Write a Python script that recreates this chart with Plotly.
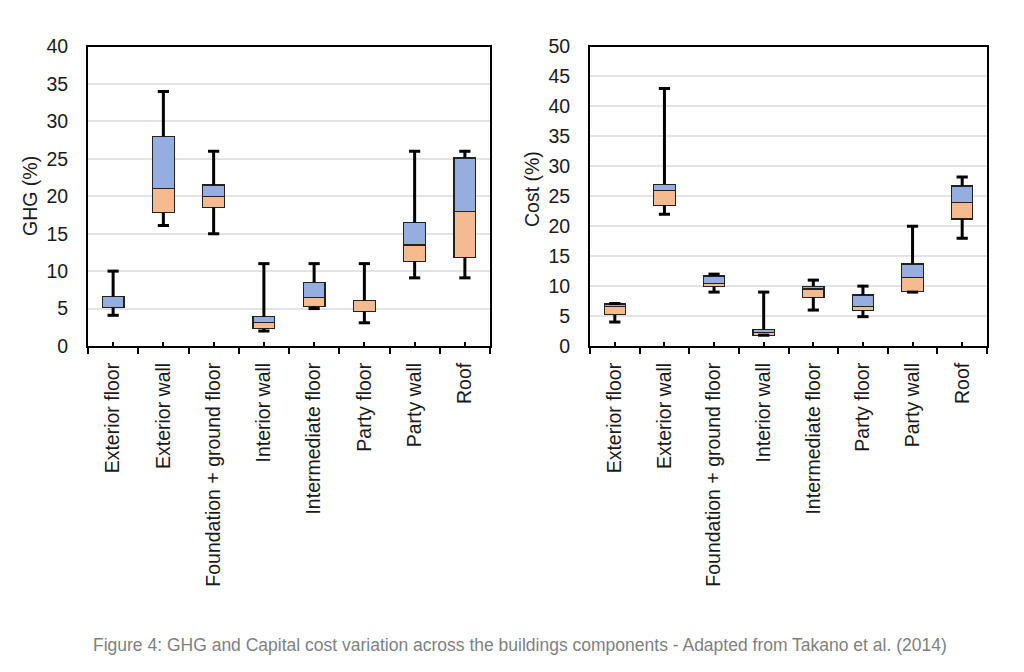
import plotly.graph_objects as go

categories = ["Exterior floor", "Exterior wall", "Foundation + ground floor", "Interior wall",
              "Intermediate floor", "Party floor", "Party wall", "Roof"]

# GHG (%) box statistics
ghg_min = [4.1, 16.1, 15.0, 2.0, 5.0, 3.1, 9.1, 9.1]
ghg_q1 = [5.1, 17.8, 18.5, 2.3, 5.3, 4.6, 11.3, 11.8]
ghg_med = [5.1, 21.0, 20.0, 3.1, 6.5, 6.1, 13.5, 18.0]
ghg_q3 = [6.6, 28.0, 21.5, 3.9, 8.5, 6.1, 16.5, 25.1]
ghg_max = [10.0, 34.0, 26.0, 11.0, 11.0, 11.0, 26.0, 26.0]

# Cost (%) box statistics
cost_min = [4.0, 22.0, 9.0, 1.8, 6.0, 4.9, 9.0, 18.0]
cost_q1 = [5.2, 23.5, 9.9, 1.8, 8.1, 5.9, 9.1, 21.2]
cost_med = [6.6, 25.9, 10.5, 2.2, 9.5, 6.6, 11.5, 23.9]
cost_q3 = [7.0, 27.0, 11.7, 2.7, 10.0, 8.5, 13.7, 26.7]
cost_max = [7.1, 43.0, 12.0, 9.0, 11.0, 10.0, 20.0, 28.2]

ghg_ticks = [0, 5, 10, 15, 20, 25, 30, 35, 40]
cost_ticks = [0, 5, 10, 15, 20, 25, 30, 35, 40, 45, 50]

BLUE = "#95ADDF"
ORANGE = "#F6BA91"
FONT = "Liberation Sans, Arial, sans-serif"
FS = 19.5
TXT = "#1a1a1a"
BAR_W = 0.43

fig = go.Figure()


def add_box_set(xa, ya, xo, mn, q1, md, q3, mx):
    fig.add_trace(go.Bar(x=categories, y=q1, xaxis=xa, yaxis=ya, width=BAR_W,
                         marker=dict(color="rgba(0,0,0,0)", line=dict(width=0)),
                         showlegend=False, hoverinfo="skip"))
    fig.add_trace(go.Bar(x=categories, y=[m - a for m, a in zip(md, q1)], xaxis=xa, yaxis=ya,
                         width=BAR_W, marker=dict(color=ORANGE, line=dict(color="#222", width=1.2)),
                         showlegend=False))
    fig.add_trace(go.Bar(x=categories, y=[b - m for b, m in zip(q3, md)], xaxis=xa, yaxis=ya,
                         width=BAR_W, marker=dict(color=BLUE, line=dict(color="#222", width=1.2)),
                         showlegend=False))
    wx, wy = [], []
    for c, a, b, lo, hi in zip(categories, q1, q3, mn, mx):
        wx += [c, c, None, c, c, None]
        wy += [b, hi, None, a, lo, None]
    fig.add_trace(go.Scatter(x=wx, y=wy, xaxis=xa, yaxis=ya, mode="lines",
                             line=dict(color="black", width=3), showlegend=False, hoverinfo="skip"))
    fig.add_trace(go.Scatter(x=categories + categories, y=mx + mn, xaxis=xa, yaxis=ya, mode="markers",
                             marker=dict(symbol="line-ew", size=8, line=dict(color="black", width=3)),
                             showlegend=False, hoverinfo="skip"))
    # invisible trace for the centre tick overlay axis
    fig.add_trace(go.Scatter(x=categories, y=md, xaxis=xo, yaxis=ya, mode="markers",
                             marker=dict(opacity=0), showlegend=False, hoverinfo="skip"))


add_box_set("x", "y", "x3", ghg_min, ghg_q1, ghg_med, ghg_q3, ghg_max)
add_box_set("x2", "y2", "x4", cost_min, cost_q1, cost_med, cost_q3, cost_max)

W, H = 1024, 672
ydom = [1 - 346 / H, 1 - 46.5 / H]
xdom1 = [88 / W, 490 / W]
xdom2 = [590 / W, 987 / W]

xcommon = dict(type="category", categoryorder="array", categoryarray=categories,
               range=[-0.5, 7.5], showline=True, linecolor="black", linewidth=2, mirror=True,
               ticks="outside", tickson="boundaries", ticklen=6, tickwidth=2, tickcolor="black",
               tickangle=-90, tickfont=dict(family=FONT, size=FS, color=TXT), ticklabelstandoff=7,
               showgrid=False, zeroline=False, fixedrange=True, automargin=False)
xover = dict(type="category", categoryorder="array", categoryarray=categories,
             range=[-0.5, 7.5], showline=False, ticks="inside", ticklen=4, tickwidth=2,
             tickcolor="black", showticklabels=False, showgrid=False, zeroline=False, automargin=False)
ycommon = dict(showline=True, linecolor="black", linewidth=2, mirror=True, ticks="",
               showgrid=True, gridcolor="#E3E3E3", gridwidth=2, zeroline=False, automargin=False,
               tickfont=dict(family=FONT, size=FS, color=TXT), ticklabelstandoff=14)

fig.update_layout(
    width=W, height=H, margin=dict(l=0, r=0, t=0, b=0),
    paper_bgcolor="white", plot_bgcolor="white", barmode="stack",
    font=dict(family=FONT, color=TXT),
    xaxis=dict(domain=xdom1, anchor="y", **xcommon),
    xaxis2=dict(domain=xdom2, anchor="y2", **xcommon),
    xaxis3=dict(overlaying="x", anchor="y", **xover),
    xaxis4=dict(overlaying="x2", anchor="y2", **xover),
    yaxis=dict(domain=ydom, anchor="x", range=[0, 40], tickvals=ghg_ticks, **ycommon),
    yaxis2=dict(domain=ydom, anchor="x2", range=[0, 50], tickvals=cost_ticks, **ycommon),
    annotations=[
        dict(text="GHG (%)", xref="paper", yref="paper", x=30 / W, y=1 - 196 / H,
             xanchor="center", yanchor="middle", textangle=-90, showarrow=False,
             font=dict(family=FONT, size=FS, color=TXT)),
        dict(text="Cost (%)", xref="paper", yref="paper", x=532 / W, y=1 - 189 / H,
             xanchor="center", yanchor="middle", textangle=-90, showarrow=False,
             font=dict(family=FONT, size=FS, color=TXT)),
        dict(text="Figure 4: GHG and Capital cost variation across the buildings components - Adapted from Takano et al. (2014)",
             xref="paper", yref="paper", x=520 / W, y=1 - 645 / H, xanchor="center", yanchor="middle",
             showarrow=False, font=dict(family=FONT, size=17.5, color="#7F7F7F")),
    ],
)

fig.write_html("out.html")
